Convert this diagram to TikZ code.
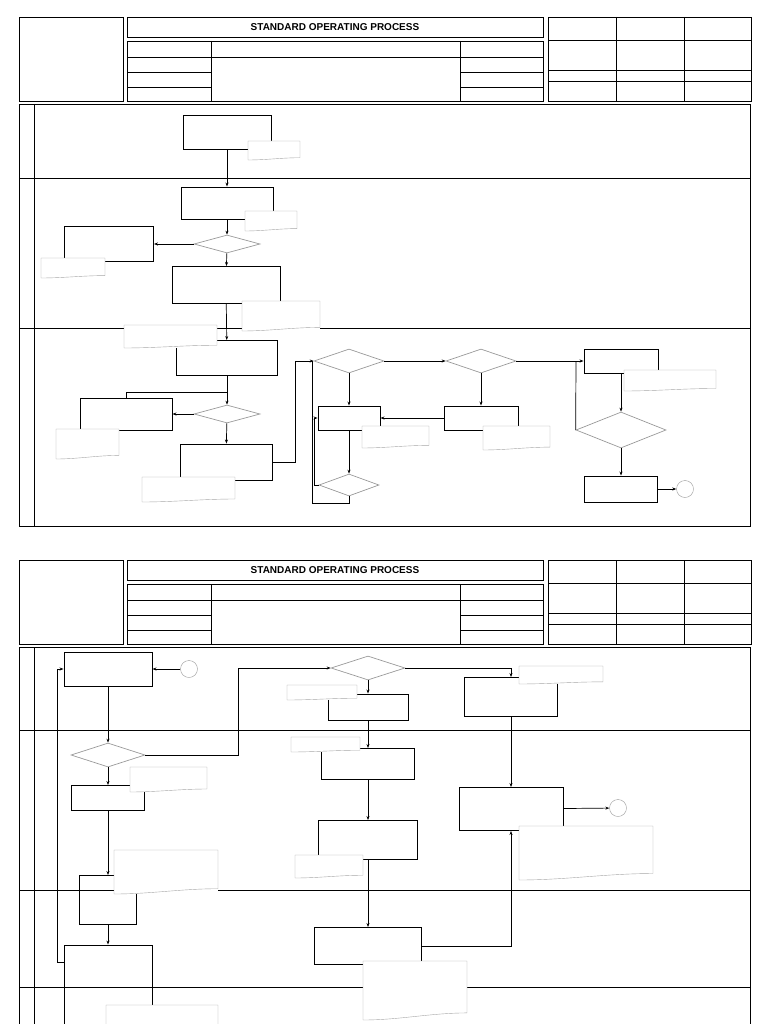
\documentclass[tikz,border=0pt]{standalone}
\usepackage{fontspec}
\setsansfont{Liberation Sans}
\usepackage{tikz}
\usetikzlibrary{shapes.geometric,arrows.meta}

\newcommand{\docnote}[5]{%
  \fill[white] (#2,#3) rectangle (#4,#5);
  \draw[gray!70,fill=white] (#2,#3) -- (#4,#3) -- (#4,{#5-0.12*(#5-#3)})
    .. controls ({#4-0.35*(#4-#2)},{#5-0.12*(#5-#3)}) and ({#2+0.35*(#4-#2)},#5) .. (#2,#5) -- cycle;
  \coordinate (#1) at ({(#2+#4)/2},{(#3+#5)/2});}

\begin{document}
\begin{tikzpicture}[x=1pt,y=-1pt,
  proc/.style={rectangle,draw,line width=0.9pt,inner sep=0pt},
  choice/.style={diamond,draw=gray!80,line width=0.7pt,inner sep=0pt},
  term/.style={circle,draw=gray!80,inner sep=0pt,minimum size=17pt},
  frame/.style={draw,line width=0.9pt},
  arr/.style={-{Stealth[length=4pt,width=3pt]},line width=0.7pt},
  line/.style={line width=0.7pt}
]
\useasboundingbox (0,0) rectangle (768,1024);

% header blocks
\foreach \oy in {0,543}{
  \begin{scope}[yshift=-\oy pt]
  \draw[frame] (19,17) rectangle (123,101);
  \node[frame,minimum width=416pt,minimum height=20pt,inner sep=0pt,
        font=\sffamily\bfseries\fontsize{10}{11}\selectfont] (title\oy) at (335,27) {STANDARD OPERATING PROCESS};
  \draw[frame] (127,41) rectangle (543,101);
  \draw (211,41) -- (211,101) (460,41) -- (460,101) (127,57) -- (543,57);
  \draw (127,72) -- (211,72) (127,87) -- (211,87) (460,72) -- (543,72) (460,87) -- (543,87);
  \draw[frame] (548,17) rectangle (751,101);
  \draw (616,17) -- (616,101) (684,17) -- (684,101);
  \draw (548,40) -- (751,40) (548,70) -- (751,70) (548,81) -- (751,81);
  \end{scope}
}

% lanes, page 1
\draw[frame] (19,104) rectangle (750,526);
\draw (34,104) -- (34,526) (19,178) -- (750,178) (19,328) -- (750,328);

% lanes, page 2
\draw[frame] (19,647) rectangle (750,1030);
\draw (34,647) -- (34,1030) (19,730) -- (750,730) (19,890) -- (750,890) (19,987) -- (750,987);

% page 1 steps
\node[proc,minimum width=88pt,minimum height=34pt] (A) at (227,132) {};
\node[proc,minimum width=92pt,minimum height=32pt] (B) at (227,203) {};
\node[choice,minimum width=66pt,minimum height=18pt] (D1) at (227,244) {};
\node[proc,minimum width=89pt,minimum height=35pt] (C) at (109,244) {};
\node[proc,minimum width=108pt,minimum height=37pt] (E) at (226,285) {};
\node[proc,minimum width=101pt,minimum height=35pt] (F) at (227,358) {};
\node[choice,minimum width=66pt,minimum height=18pt] (D2) at (227,414) {};
\node[proc,minimum width=92pt,minimum height=32pt] (G) at (126,414) {};
\node[proc,minimum width=92pt,minimum height=36pt] (H) at (226,462) {};
\node[choice,minimum width=70pt,minimum height=24pt] (D3) at (349,361) {};
\node[choice,minimum width=70pt,minimum height=24pt] (D4) at (481,361) {};
\node[proc,minimum width=74pt,minimum height=24pt] (I) at (621,361) {};
\node[choice,minimum width=90pt,minimum height=36pt] (D5) at (621,430) {};
\node[proc,minimum width=73pt,minimum height=26pt] (J) at (621,489) {};
\node[term] (endA) at (685,489) {};
\node[proc,minimum width=62pt,minimum height=24pt] (K) at (349,418) {};
\node[proc,minimum width=74pt,minimum height=24pt] (L) at (481,418) {};
\node[choice,minimum width=60pt,minimum height=22pt] (D6) at (349,485) {};

% page 2 steps
\node[proc,minimum width=88pt,minimum height=34pt] (P1) at (108,669) {};
\node[term] (S1) at (189,669) {};
\node[choice,minimum width=74pt,minimum height=24pt] (Q1) at (108,755) {};
\node[choice,minimum width=74pt,minimum height=24pt] (Q2) at (368,668) {};
\node[proc,minimum width=80pt,minimum height=26pt] (P2) at (368,707) {};
\node[proc,minimum width=93pt,minimum height=39pt] (P3) at (511,697) {};
\node[proc,minimum width=93pt,minimum height=31pt] (P4) at (368,764) {};
\node[proc,minimum width=99pt,minimum height=39pt] (P5) at (368,840) {};
\node[proc,minimum width=107pt,minimum height=37pt] (P6) at (368,946) {};
\node[proc,minimum width=104pt,minimum height=43pt] (P7) at (511,809) {};
\node[term] (S2) at (618,808) {};
\node[proc,minimum width=73pt,minimum height=25pt] (R1) at (108,798) {};
\node[proc,minimum width=57pt,minimum height=49pt] (R2) at (108,900) {};
\node[proc,minimum width=88pt,minimum height=100pt] (R3) at (108,995) {};

% document notes
\docnote{n1}{248}{141}{300}{160}
\docnote{n2}{245}{211}{297}{231}
\docnote{n3}{41}{258}{105}{278}
\docnote{n4}{242}{301}{320}{331}
\docnote{n5}{124}{325}{217}{348}
\docnote{n6}{56}{429}{119}{459}
\docnote{n7}{142}{477}{235}{502}
\docnote{n8}{624}{370}{716}{391}
\docnote{n9}{362}{426}{429}{448}
\docnote{n10}{483}{426}{550}{450}
\docnote{m1}{519}{666}{603}{684}
\docnote{m2}{287}{685}{357}{700}
\docnote{m3}{291}{737}{360}{752}
\docnote{m4}{295}{855}{363}{878}
\docnote{m5}{363}{961}{467}{1020}
\docnote{m6}{519}{826}{653}{880}
\docnote{m7}{130}{767}{207}{792}
\docnote{m8}{114}{850}{218}{894}
\docnote{m9}{106}{1005}{218}{1035}

% connectors, page 1
\draw[arr] (A) -- (B);
\draw[arr] (B) -- (D1);
\draw[arr] (D1) -- (C);
\draw[arr] (D1) -- (E);
\draw[arr] (E) -- (F);
\draw[arr] (F) -- (D2);
\coordinate (j1) at (227,392);
\draw[line] (j1) -| (G.north);
\draw[arr] (D2) -- (G);
\draw[arr] (D2) -- (H);
\draw[arr] (H.east) -- ++(23,0) |- (D3.west);
\draw[arr] (D3) -- (D4);
\draw[arr] (D4) -- (I);
\coordinate (k1) at (576,361);
\draw[line] (k1) -- (D5.west);
\draw[arr] (I) -- (D5);
\draw[arr] (D5) -- (J);
\draw[arr] (J) -- (endA);
\draw[arr] (D3) -- (K);
\draw[arr] (D4) -- (L);
\draw[arr] (L) -- (K);
\draw[arr] (K) -- (D6);
\coordinate (lp) at (312,503);
\draw[line] (D6.south) |- (lp) -- (lp |- D3.west);
\draw[arr] (D6.west) -- ++(-4,0) |- (K.west);

% connectors, page 2
\draw[arr] (S1) -- (P1);
\draw[arr] (P1) -- (Q1);
\draw[arr] (Q1.east) -- ++(93,0) |- (Q2.west);
\draw[arr] (Q2.east) -| (P3.north);
\draw[arr] (Q2) -- (P2);
\draw[arr] (P2) -- (P4);
\draw[arr] (P4) -- (P5);
\draw[arr] (P5) -- (P6);
\draw[arr] (P6.east) -| (P7.south);
\draw[arr] (P3) -- (P7);
\draw[arr] (P7) -- (S2);
\draw[arr] (Q1) -- (R1);
\draw[arr] (R1) -- (R2);
\draw[arr] (R2) -- (R3);
\draw[arr] ([yshift=-18pt]R3.north west) -- ++(-6,0) |- (P1.west);

\end{tikzpicture}
\end{document}
